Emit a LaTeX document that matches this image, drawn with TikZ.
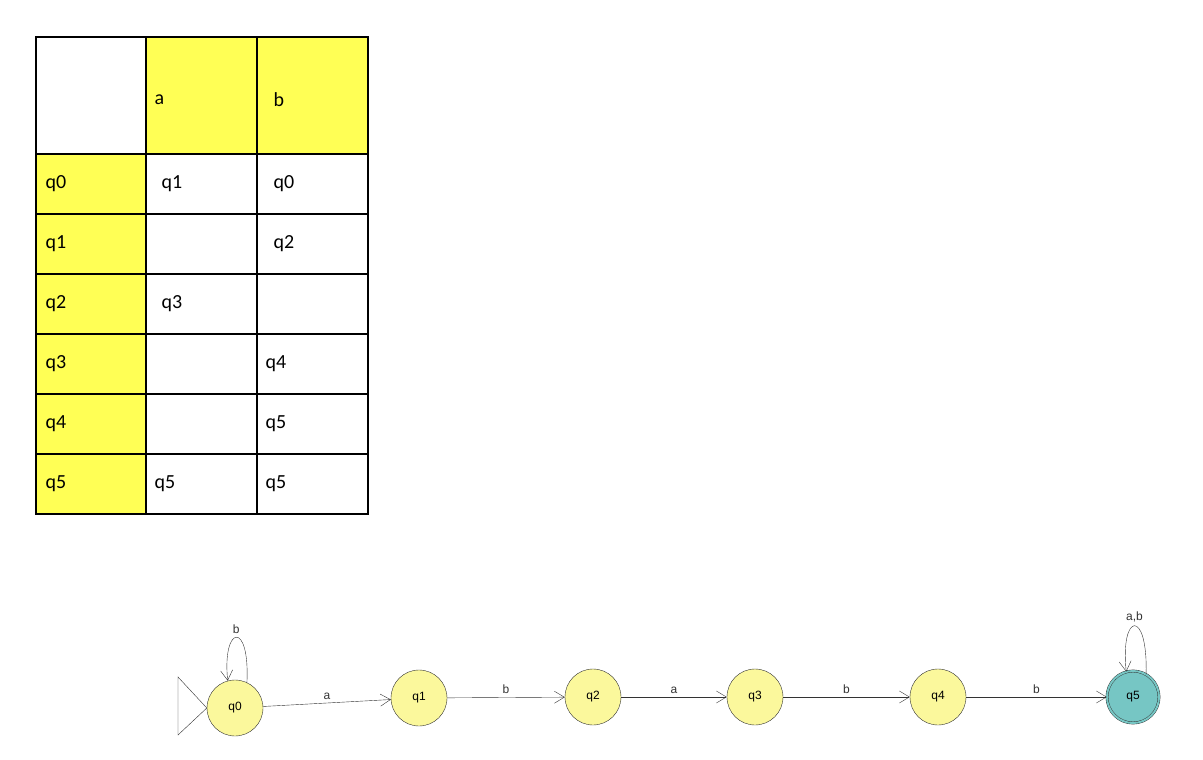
\documentclass[tikz,border=0pt]{standalone}
\usepackage{fontspec}
\setmainfont{Carlito}
\newfontfamily\arialf{Liberation Sans}
\usetikzlibrary{arrows.meta}
\definecolor{ylw}{HTML}{FFFF55}
\definecolor{stfill}{HTML}{FBF89C}
\definecolor{acc}{HTML}{76C6C4}
\begin{document}
\begin{tikzpicture}[x=1pt,y=-1pt,
  cell/.style={anchor=west,font=\fontsize{20}{20}\selectfont},
  st/.style={circle,draw=black!80,fill=stfill,minimum size=56pt,inner sep=0pt,font=\arialf\fontsize{12}{12}\selectfont},
  lbl/.style={font=\arialf\fontsize{12}{12}\selectfont,text=black!80},
  tr/.style={draw=black!80,-{Straight Barb[length=10pt,width=12pt]}}]
\useasboundingbox (0,0) rectangle (1203,760);
% table fills
\fill[ylw] (146,37) rectangle (368,154);
\fill[ylw] (36,154) rectangle (146,514);
\draw[line width=1.2pt] (36,37) rectangle (368,514);
\foreach \x in {146,257} \draw[line width=1.2pt] (\x,37) -- (\x,514);
\foreach \y in {154,214,274,334,394,454} \draw[line width=1.2pt] (36,\y) -- (368,\y);
\node[cell] (ha) at (151,100) {a};
\node[cell] (hb) at (270,100) {b};
\foreach \i/\y in {0/184,1/244,2/304,3/364,4/424,5/484} \node[cell] (r\i) at (42,\y) {q\i};
\node[cell] (c01) at (158,184) {q1};
\node[cell] (c02) at (270,184) {q0};
\node[cell] (c12) at (270,244) {q2};
\node[cell] (c21) at (158,304) {q3};
\node[cell] (c32) at (262,364) {q4};
\node[cell] (c42) at (262,424) {q5};
\node[cell] (c51) at (151,484) {q5};
\node[cell] (c52) at (262,484) {q5};
% automaton
\node[st] (q0) at (235,708) {q0};
\node[st] (q1) at (419,698) {q1};
\node[st] (q2) at (593,697) {q2};
\node[st] (q3) at (755,697) {q3};
\node[st] (q4) at (938,697) {q4};
\node[st,fill=acc,double=acc,double distance=2pt,draw=black!80,minimum size=52pt] (q5) at (1133,697) {q5};
\draw[black!80] (q0.west) -- (178,677) -- (178,735) -- cycle;
\draw[tr] (q0) -- node[lbl,above] {a} (q1);
\draw[tr] (q1) -- node[lbl,above] {b} (q2);
\draw[tr] (q2) -- node[lbl,above] {a} (q3);
\draw[tr] (q3) -- node[lbl,above] {b} (q4);
\draw[tr] (q4) -- node[lbl,above] {b} (q5);
\draw[tr] (q0.65) .. controls (250,620) and (222,625) .. node[lbl,above,pos=0.5] {b} (q0.105);
\draw[tr] (q5.60) .. controls (1148,608) and (1120,612) .. node[lbl,above,pos=0.5] {a,b} (q5.105);
\end{tikzpicture}
\end{document}
